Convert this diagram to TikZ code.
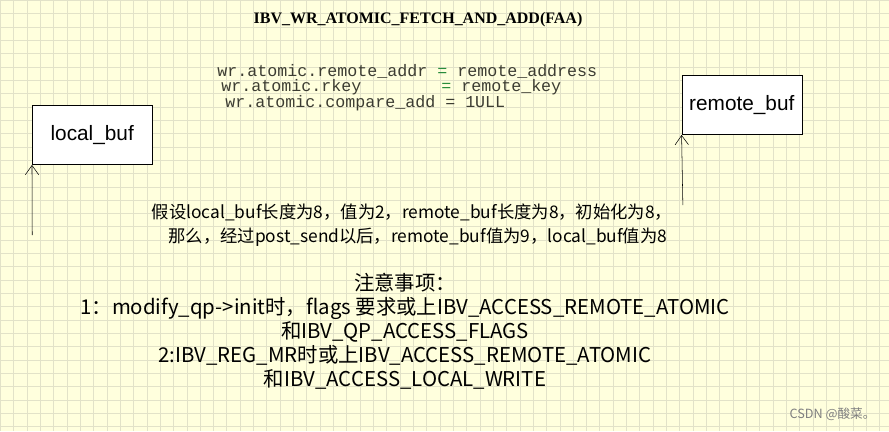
\documentclass[tikz,border=0pt]{standalone}
\usepackage{fontspec}
\setmainfont{Liberation Sans}
\newfontfamily\titlefont{Liberation Serif}
\newfontfamily\codefont{Liberation Mono}
\newfontfamily\cjk{Noto Sans CJK SC}
\usetikzlibrary{arrows.meta}
\definecolor{paper}{RGB}{255,255,221}
\definecolor{gridline}{RGB}{226,226,200}
\definecolor{codegray}{RGB}{60,60,50}
\definecolor{eqgreen}{RGB}{40,140,60}

\begin{document}
\begin{tikzpicture}[x=0.75pt,y=-0.75pt,
    every node/.style={inner sep=0pt},
    buf/.style={draw, fill=white, minimum width=120*0.75pt, minimum height=59*0.75pt, font=\fontsize{15.6}{18}\selectfont},
    code/.style={anchor=west, text=codegray, font=\codefont\fontsize{12.5}{12}\selectfont},
    note/.style={align=center, font=\cjk\fontsize{13}{17.5}\selectfont},
    ]
  \fill[paper] (0,0) rectangle (889,431);
  \draw[gridline, step=13.33*0.75pt, shift={(0,0)}] (0,0) grid (889,431);
  \useasboundingbox (0,0) rectangle (889,431);

  \node[font=\titlefont\bfseries\fontsize{12}{13}\selectfont] (title) at (418,19) {IBV\_WR\_ATOMIC\_FETCH\_AND\_ADD(FAA)};

  \node[code] (addr) at (217,71) {wr.atomic.remote\_addr \textcolor{eqgreen}{=} remote\_address};
  \node[code] (rkey) at (221,87) {wr.atomic.rkey\ \ \ \ \ \ \ \ \textcolor{eqgreen}{=} remote\_key};
  \node[code] (cadd) at (225,103) {wr.atomic.compare\_add = 1ULL};

  \node[buf] (local) at (92,135) {local\_buf};
  \node[buf] (remote) at (742,105) {remote\_buf};

  \coordinate (lfoot) at (32,235);
  \coordinate (rfoot) at (683,205);
  \draw[-{Straight Barb[length=7pt,width=10pt]}] (lfoot) -- (local.south west);
  \draw[-{Straight Barb[length=7pt,width=10pt]}] (rfoot) -- (remote.south west);

  \node[note] (example) at (412,225) {假设local\_buf长度为8，值为2，remote\_buf长度为8，初始化为8，\\\ \ \ 那么，经过post\_send以后，remote\_buf值为9，local\_buf值为8};

  \node[note, font=\cjk\fontsize{15.3}{18}\selectfont] (caution) at (405,331) {注意事项：\\1：modify\_qp->init时，flags 要求或上IBV\_ACCESS\_REMOTE\_ATOMIC\\和IBV\_QP\_ACCESS\_FLAGS\\2:IBV\_REG\_MR时或上IBV\_ACCESS\_REMOTE\_ATOMIC\\和IBV\_ACCESS\_LOCAL\_WRITE};

  \node[text=gray, font=\cjk\fontsize{9.5}{10}\selectfont, anchor=east] (mark) at (876,414) {CSDN @酸菜。};
\end{tikzpicture}
\end{document}
